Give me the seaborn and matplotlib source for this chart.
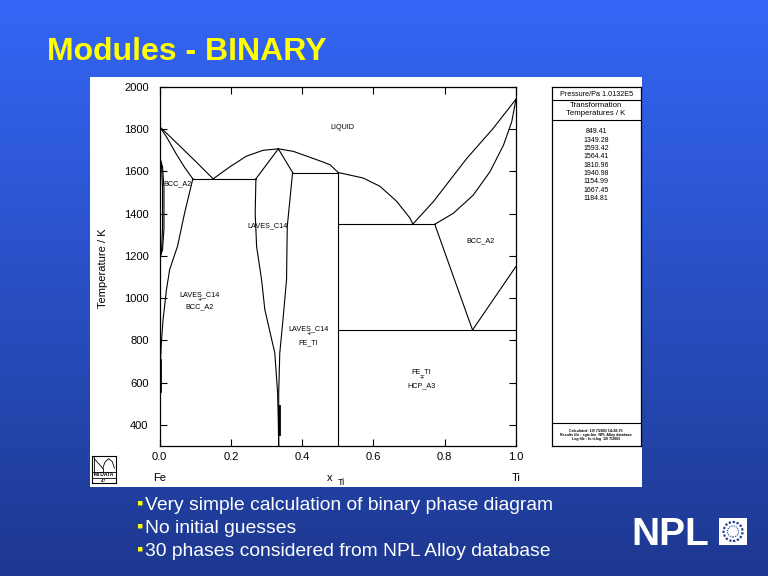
import numpy as np
import pandas as pd
import matplotlib
matplotlib.use("Agg")
import matplotlib.pyplot as plt
import seaborn as sns
from matplotlib.patches import Rectangle, Circle

# ---------------- data ----------------
fe_liquidus_x = [0.0, 0.05, 0.10, 0.150]
fe_liquidus_T = [1811, 1730, 1648, 1564]
fe_bcc_solidus_x = [0.0, 0.02, 0.047, 0.07, 0.093]
fe_bcc_solidus_T = [1811, 1760, 1680, 1618, 1564]
fe_eutectic_x = [0.093, 0.270]
fe_eutectic_T = [1564, 1564]
dome_left_x = [0.150, 0.197, 0.243, 0.290, 0.333]
dome_left_T = [1564, 1621, 1671, 1699, 1706]
dome_right_x = [0.333, 0.375, 0.44, 0.478, 0.501]
dome_right_T = [1706, 1694, 1655, 1631, 1594]
feti_liquidus_x = [0.501, 0.571, 0.618, 0.665, 0.702, 0.711]
feti_liquidus_T = [1594, 1568, 1529, 1458, 1379, 1349]
laves_left_top_x = [0.333, 0.270]
laves_left_top_T = [1706, 1564]
laves_left_x = [0.270, 0.268, 0.272, 0.286, 0.295, 0.323, 0.331, 0.333, 0.334]
laves_left_T = [1564, 1401, 1243, 1086, 946, 740, 550, 400, 300]
laves_right_top_x = [0.333, 0.373]
laves_right_top_T = [1706, 1594]
laves_right_x = [0.373, 0.358, 0.356, 0.346, 0.337, 0.334, 0.334]
laves_right_T = [1594, 1338, 1087, 897, 740, 550, 300]
fe_solvus_x = [0.093, 0.070, 0.050, 0.028, 0.019, 0.0094, 0.0047, 0.0]
fe_solvus_T = [1564, 1403, 1245, 1135, 1040, 898, 788, 615]
gamma_outer_x = [0.0, 0.008, 0.012, 0.012, 0.008, 0.0]
gamma_outer_T = [1667, 1620, 1520, 1330, 1230, 1185]
gamma_inner_x = [0.0, 0.005, 0.008, 0.008, 0.005, 0.0]
gamma_inner_T = [1667, 1630, 1520, 1330, 1220, 1185]
feti_line_x = [0.5, 0.5]
feti_line_T = [1594, 300]
peritectic_x = [0.373, 0.501]
peritectic_T = [1594, 1594]
ti_eutectic_x = [0.501, 0.772]
ti_eutectic_T = [1349, 1349]
eutectoid_x = [0.5, 1.0]
eutectoid_T = [849, 849]
ti_liquidus_x = [0.710, 0.768, 0.862, 0.936, 1.0]
ti_liquidus_T = [1349, 1456, 1661, 1803, 1941]
ti_solidus_x = [0.772, 0.824, 0.880, 0.927, 0.965, 0.988, 1.0]
ti_solidus_T = [1349, 1401, 1487, 1598, 1724, 1834, 1941]
bcc_hcp_left_x = [0.772, 0.824, 0.878]
bcc_hcp_left_T = [1349, 1103, 849]
bcc_hcp_right_x = [0.878, 1.0]
bcc_hcp_right_T = [849, 1150]
# heavy (overlapping) segments
laves_bottom_x = [0.334, 0.334]
laves_bottom_T = [490, 355]
fe_axis_x = [0.001, 0.001]
fe_axis_T = [709, 558]

x_ticks = [0.0, 0.2, 0.4, 0.6, 0.8, 1.0]
x_tick_labels = ["0.0", "0.2", "0.4", "0.6", "0.8", "1.0"]
y_ticks = [400, 600, 800, 1000, 1200, 1400, 1600, 1800, 2000]

phase_labels = ["LIQUID", "BCC_A2", "LAVES_C14", "LAVES_C14", "+", "BCC_A2",
                "LAVES_C14", "+", "FE_TI", "FE_TI", "+", "HCP_A3", "BCC_A2"]
phase_label_x = [0.514, 0.051, 0.302, 0.112, 0.112, 0.112,
                 0.417, 0.417, 0.417, 0.735, 0.735, 0.735, 0.899]
phase_label_T = [1806, 1540, 1340, 1015, 988, 960,
                 854, 826, 788, 651, 619, 586, 1272]

pressure_text = "Pressure/Pa 1.0132E5"
header_lines = ["Transformation", "Temperatures / K"]
transformation_temps = ["849.41", "1349.28", "1593.42", "1564.41", "1810.96",
                        "1940.98", "1154.99", "1667.45", "1184.81"]
footer_lines = ["Calculated: 10/ 7/2003 14:28:35",
                "Results file : sgte.bin  NPL Alloy database",
                "Log file : fe-ti.log  10/ 7/2003"]

title_text = "Modules - BINARY"
bullets = ["Very simple calculation of binary phase diagram",
           "No initial guesses",
           "30 phases considered from NPL Alloy database"]

# ---------------- build table ----------------
thin = {
    "fe_liquidus": (fe_liquidus_x, fe_liquidus_T),
    "fe_bcc_solidus": (fe_bcc_solidus_x, fe_bcc_solidus_T),
    "fe_eutectic": (fe_eutectic_x, fe_eutectic_T),
    "dome_left": (dome_left_x, dome_left_T),
    "dome_right": (dome_right_x, dome_right_T),
    "feti_liquidus": (feti_liquidus_x, feti_liquidus_T),
    "laves_left_top": (laves_left_top_x, laves_left_top_T),
    "laves_left": (laves_left_x, laves_left_T),
    "laves_right_top": (laves_right_top_x, laves_right_top_T),
    "laves_right": (laves_right_x, laves_right_T),
    "fe_solvus": (fe_solvus_x, fe_solvus_T),
    "gamma_outer": (gamma_outer_x, gamma_outer_T),
    "gamma_inner": (gamma_inner_x, gamma_inner_T),
    "feti_line": (feti_line_x, feti_line_T),
    "peritectic": (peritectic_x, peritectic_T),
    "ti_eutectic": (ti_eutectic_x, ti_eutectic_T),
    "eutectoid": (eutectoid_x, eutectoid_T),
    "ti_liquidus": (ti_liquidus_x, ti_liquidus_T),
    "ti_solidus": (ti_solidus_x, ti_solidus_T),
    "bcc_hcp_left": (bcc_hcp_left_x, bcc_hcp_left_T),
    "bcc_hcp_right": (bcc_hcp_right_x, bcc_hcp_right_T),
}
thick = {
    "laves_bottom": (laves_bottom_x, laves_bottom_T),
    "fe_axis": (fe_axis_x, fe_axis_T),
}


def to_frame(d):
    rows = []
    for name, (xs, ts) in d.items():
        for i, (xv, tv) in enumerate(zip(xs, ts)):
            rows.append({"boundary": name, "order": i, "x": xv, "T": tv})
    return pd.DataFrame(rows)


df_thin = to_frame(thin)
df_thick = to_frame(thick)

# ---------------- figure ----------------
plt.rcParams["font.family"] = ["Liberation Sans", "DejaVu Sans"]
W, H = 768, 576
fig = plt.figure(figsize=(W / 100, H / 100), dpi=100)


def fx(px):
    return px / W


def fy(py):
    return 1 - py / H


# background gradient + white panel
bg = fig.add_axes([0, 0, 1, 1])
bg.axis("off")
top_c = np.array([0x34, 0x66, 0xF6]) / 255
bot_c = np.array([0x1D, 0x38, 0x90]) / 255
g = np.linspace(0, 1, 256)[:, None, None]
img = top_c[None, None, :] + (bot_c - top_c)[None, None, :] * g
bg.imshow(img, aspect="auto", extent=[0, 1, 0, 1], interpolation="bilinear")
bg.set_xlim(0, 1)
bg.set_ylim(0, 1)
bg.add_patch(Rectangle((fx(90), fy(487)), fx(642) - fx(90), fy(77) - fy(487),
                       facecolor="white", edgecolor="none"))

# main phase diagram axes
ax_top, ax_bot, ax_l, ax_r = 86.7, 446.0, 159.7, 516.0
ax = fig.add_axes([fx(ax_l), fy(ax_bot), (ax_r - ax_l) / W, (ax_bot - ax_top) / H])
ax.set_facecolor("white")
sns.lineplot(data=df_thin, x="x", y="T", units="boundary", estimator=None,
             sort=False, color="black", lw=0.8, ax=ax, legend=False)
sns.lineplot(data=df_thick, x="x", y="T", units="boundary", estimator=None,
             sort=False, color="black", lw=2.0, ax=ax, legend=False)
ax.set_xlim(0, 1)
ax.set_ylim(300, 2000)
ax.set_xticks(x_ticks)
ax.set_xticklabels(x_tick_labels)
ax.set_yticks(y_ticks)
ax.set_yticklabels([str(v) for v in y_ticks])
ax.tick_params(axis="both", direction="in", length=5, width=0.8, top=True,
               right=True, labelsize=8, colors="black")
ax.tick_params(axis="y", pad=8)
ax.tick_params(axis="x", pad=4.5)
for s in ax.spines.values():
    s.set_linewidth(0.9)
    s.set_color("black")
ax.set_xlabel("")
ax.set_ylabel("Temperature / K", fontsize=8)
ax.yaxis.set_label_coords(-0.146, 0.495)
ax.grid(False)

for lab, xv, tv in zip(phase_labels, phase_label_x, phase_label_T):
    ax.text(xv, tv, lab, fontsize=5.2, ha="center", va="center", color="black")

# axis end labels
ax.text(0.0, -0.088, "Fe", transform=ax.transAxes, fontsize=8, ha="center", va="center")
ax.text(1.0, -0.088, "Ti", transform=ax.transAxes, fontsize=8, ha="center", va="center")
ax.text(0.478, -0.088, "x", transform=ax.transAxes, fontsize=8, ha="center", va="center")
ax.text(0.511, -0.101, "Ti", transform=ax.transAxes, fontsize=6.5, ha="center", va="center")

# side box
sb_l, sb_r = 551.7, 640.5
sb = fig.add_axes([fx(sb_l), fy(ax_bot), (sb_r - sb_l) / W, (ax_bot - ax_top) / H])
sb.set_facecolor("white")
sb.set_xlim(0, 1)
sb.set_ylim(0, 1)
sb.set_xticks([])
sb.set_yticks([])
for s in sb.spines.values():
    s.set_linewidth(0.9)


def sy(py):
    return (ax_bot - py) / (ax_bot - ax_top)


sb.axhline(sy(100), color="black", lw=0.8)
sb.axhline(sy(120), color="black", lw=0.8)
sb.axhline(sy(422.7), color="black", lw=0.8)
sb.text(0.5, sy(94), pressure_text, fontsize=5.2, ha="center", va="center")
sb.text(0.5, sy(105.7), header_lines[0], fontsize=5.6, ha="center", va="center")
sb.text(0.5, sy(113.3), header_lines[1], fontsize=5.6, ha="center", va="center")
for i, t in enumerate(transformation_temps):
    sb.text(0.5, sy(131.7 + i * 8.33), t, fontsize=5.0, ha="center", va="center")
for i, t in enumerate(footer_lines):
    sb.text(0.5, sy(430.7 + i * 4.3), t, fontsize=2.6, ha="center", va="center",
            weight="bold")

# MTDATA icon
ic = fig.add_axes([fx(92), fy(483.3), (115.7 - 92) / W, (483.3 - 456) / H])
ic.set_facecolor("white")
ic.set_xlim(0, 1)
ic.set_ylim(0, 1)
ic.set_xticks([])
ic.set_yticks([])
for s in ic.spines.values():
    s.set_linewidth(0.8)
ic.plot([0.08, 0.08], [0.35, 0.95], color="black", lw=0.6)
ic.plot([0.08, 0.25, 0.45], [0.92, 0.75, 0.55], color="black", lw=0.6)
ic.plot([0.45, 0.55, 0.7, 0.85, 0.95], [0.55, 0.78, 0.9, 0.8, 0.55], color="black", lw=0.6)
ic.plot([0.45, 0.45], [0.55, 0.42], color="black", lw=0.6)
ic.plot([0.0, 1.0], [0.42, 0.42], color="black", lw=0.6)
ic.plot([0.0, 1.0], [0.2, 0.2], color="black", lw=0.6)
ic.text(0.5, 0.31, "MTDATA", fontsize=3.6, weight="bold", ha="center", va="center")
ic.text(0.5, 0.1, "4.7", fontsize=2.6, weight="bold", ha="center", va="center")

# title
fig.text(fx(47), fy(60), title_text, color="#FFFF00", fontsize=23, weight="bold",
         ha="left", va="baseline")

# bullets
for i, b in enumerate(bullets):
    base = 510 + i * 23
    fig.text(fx(137.5), fy(base - 5.5), "\u25aa", color="#FFFF00", fontsize=13,
             ha="left", va="center")
    fig.text(fx(145), fy(base), b, color="white", fontsize=13.85, ha="left",
             va="baseline")

# NPL logo
fig.text(fx(631), fy(545), "NPL", color="white", fontsize=28, weight="bold",
         ha="left", va="baseline")
lg = fig.add_axes([fx(719), fy(545), 28 / W, 27 / H])
lg.set_xlim(0, 28)
lg.set_ylim(0, 27)
lg.set_facecolor("white")
lg.set_xticks([])
lg.set_yticks([])
for s in lg.spines.values():
    s.set_visible(False)
lg.add_patch(Circle((14, 13.5), 9.5, fill=False, edgecolor="#1E3C96", lw=1.6,
                    linestyle=(0, (1, 0.8))))
lg.add_patch(Circle((14, 13.5), 5.5, fill=False, edgecolor="#1E3C96", lw=0.8,
                    linestyle=(0, (1, 1))))

fig.savefig("out.png", dpi=100)
